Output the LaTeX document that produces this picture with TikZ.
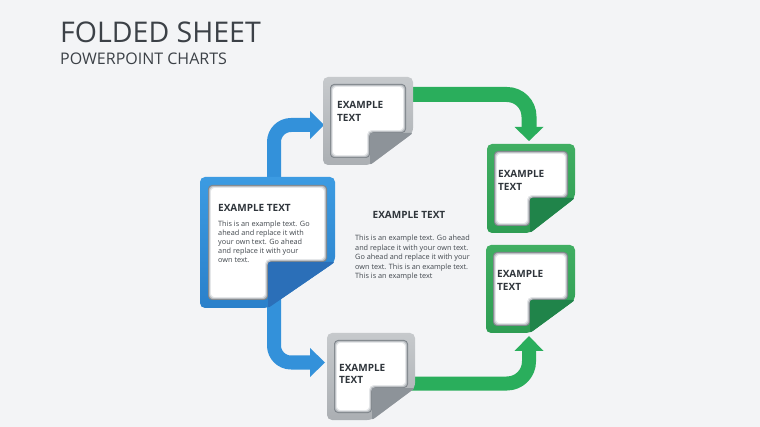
\documentclass[tikz,border=0pt]{standalone}
\usepackage{fontspec}
\setmainfont{Open Sans}
\definecolor{bg}{HTML}{F3F4F6}
\definecolor{bluetop}{HTML}{3C9BE2}
\definecolor{bluebot}{HTML}{2A80CA}
\definecolor{blueflap}{HTML}{2B6FB8}
\definecolor{bluearr}{HTML}{3391DA}
\definecolor{greentop}{HTML}{40AE62}
\definecolor{greenbot}{HTML}{2E9D53}
\definecolor{greenflap}{HTML}{20844A}
\definecolor{greenarr}{HTML}{2AAE5C}
\definecolor{greytop}{HTML}{C6C9CC}
\definecolor{greybot}{HTML}{ABAFB3}
\definecolor{greyflap}{HTML}{8D9399}
\definecolor{shA}{HTML}{7F858B}
\definecolor{shB}{HTML}{B9BDC1}
\definecolor{shC}{HTML}{E2E4E6}
\definecolor{inkdark}{HTML}{2F353B}
\definecolor{inkbody}{HTML}{40464C}
\definecolor{titleink}{HTML}{3C4147}
% #1 x0, #2 y0, #3 x1, #4 y1, #5 notch x, #6 notch y, #7 colour prefix, #8 inset, #9 name
\newcommand\foldsheet[9]{%
  \shade[top color=#7top, bottom color=#7bot, rounded corners=5]
    (#1,#2) -- (#3,#2) -- (#3,#6) -- (#5,#4) -- (#1,#4) -- cycle;
  \foreach \e/\c in {0/shA,0.8/shB,1.8/shC,2.8/white}{%
    \fill[\c, rounded corners=4]
      ({#1+#8+\e},{#2+#8+\e}) -- ({#3-#8-\e},{#2+#8+\e}) -- ({#3-#8-\e},{#6-\e})
      -- ({#5-\e},{#6-\e}) -- ({#5-\e},{#4-#8-\e}) -- ({#1+#8+\e},{#4-#8-\e}) -- cycle;
  }
  \fill[#7flap, rounded corners=2] (#5,#6) -- (#3,#6) -- (#5,#4) -- cycle;
  \coordinate (#9) at ({(#1+#3)/2},{(#2+#4)/2});
}
\tikzset{
  conn/.style={line cap=butt, line join=round},
  sheetlabel/.style={anchor=base west, inner sep=0, text=inkdark, font=\fontsize{10}{12}\selectfont\bfseries},
  bodyline/.style={anchor=base west, inner sep=0, text=inkbody, font=\fontsize{7.3}{9}\selectfont},
}
\begin{document}
\begin{tikzpicture}[x=1pt,y=-1pt]
\fill[bg] (0,0) rectangle (760,427);
\useasboundingbox (0,0) rectangle (760,427);

% title
\node[anchor=base west, inner sep=0, text=titleink, font=\fontsize{28.5}{32}\selectfont] (title) at (60,43) {FOLDED SHEET};
\node[anchor=base west, inner sep=0, text=titleink, font=\fontsize{16}{18}\selectfont] (subtitle) at (60,65) {POWERPOINT CHARTS};

% connector coordinates
\coordinate (bu0) at (274,200);
\coordinate (bu1) at (274,125);
\coordinate (bu2) at (311,125);
\coordinate (bd0) at (274,290);
\coordinate (bd1) at (274,362.5);
\coordinate (bd2) at (311,362.5);
\coordinate (gu0) at (405,94.5);
\coordinate (gu1) at (529,94.5);
\coordinate (gu2) at (529,128);
\coordinate (gd0) at (405,383.5);
\coordinate (gd1) at (529,383.5);
\coordinate (gd2) at (529,350);

% connectors
\draw[conn, bluearr, line width=14, rounded corners=17] (bu0) -- (bu1) -- (bu2);
\fill[bluearr] (bu2) ++(-1,-14) -- ++(14,14) -- ++(-14,14) -- cycle;
\draw[conn, bluearr, line width=14, rounded corners=17] (bd0) -- (bd1) -- (bd2);
\fill[bluearr] (bd2) ++(-1,-14.5) -- ++(15,14.5) -- ++(-15,14.5) -- cycle;
\draw[conn, greenarr, line width=15, rounded corners=22] (gu0) -- (gu1) -- (gu2);
\fill[greenarr] (gu2) ++(-14.5,-1) -- ++(29,0) -- ++(-14.5,14) -- cycle;
\draw[conn, greenarr, line width=14, rounded corners=22] (gd0) -- (gd1) -- (gd2);
\fill[greenarr] (gd2) ++(-14.5,1) -- ++(29,0) -- ++(-14.5,-15) -- cycle;

% sheets
\foldsheet{200}{177}{335}{308}{268}{262}{blue}{8}{sblue}
\foldsheet{323}{77}{413}{165}{370}{133}{grey}{7}{sgreytop}
\foldsheet{327}{333}{415}{420}{372}{388}{grey}{7}{sgreybot}
\foldsheet{487}{144}{575}{233}{530}{198}{green}{7}{sgreentop}
\foldsheet{486}{245}{575}{333}{530}{300}{green}{7}{sgreenbot}

% blue sheet text
\node[sheetlabel] (bt0) at (218,212) {EXAMPLE TEXT};
\node[bodyline] (bt1) at (218,227) {This is an example text. Go};
\node[bodyline] (bt2) at (218,236) {ahead and replace it with};
\node[bodyline] (bt3) at (218,245) {your own text. Go ahead};
\node[bodyline] (bt4) at (218,254) {and replace it with your};
\node[bodyline] (bt5) at (218,263) {own text.};

% small sheet labels
\node[sheetlabel] (gt1) at (337,109) {EXAMPLE};
\node[sheetlabel] (gt2) at (337,122) {TEXT};
\node[sheetlabel] (gb1) at (339,371) {EXAMPLE};
\node[sheetlabel] (gb2) at (339,384) {TEXT};
\node[sheetlabel] (nt1) at (498,178) {EXAMPLE};
\node[sheetlabel] (nt2) at (498,191) {TEXT};
\node[sheetlabel] (nb1) at (497,278) {EXAMPLE};
\node[sheetlabel] (nb2) at (497,291) {TEXT};

% centre text
\node[sheetlabel, anchor=base] (ct0) at (409,219) {EXAMPLE TEXT};
\node[bodyline] (ct1) at (355,241) {This is an example text. Go ahead};
\node[bodyline] (ct2) at (355,250.5) {and replace it with your own text.};
\node[bodyline] (ct3) at (355,260) {Go ahead and replace it with your};
\node[bodyline] (ct4) at (355,269.5) {own text. This is an example text.};
\node[bodyline] (ct5) at (355,279) {This is an example text};
\end{tikzpicture}
\end{document}
